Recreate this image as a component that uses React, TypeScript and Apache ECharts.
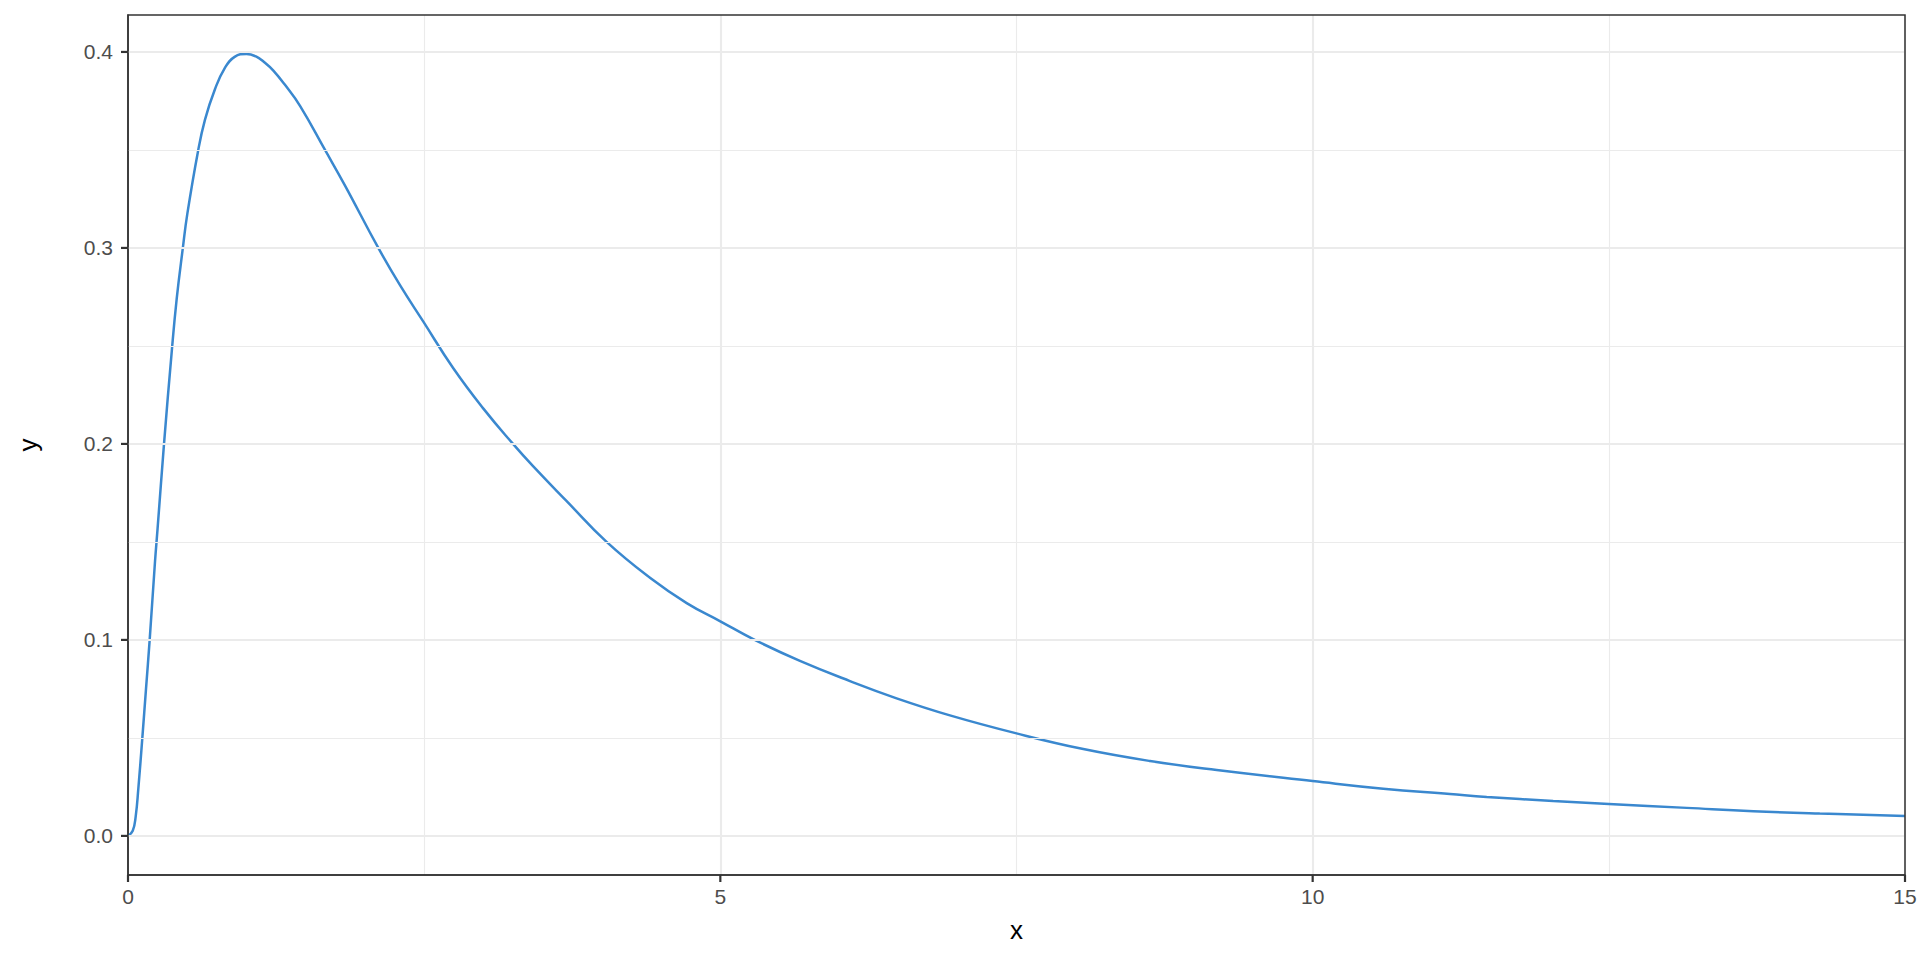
import React, { useEffect, useRef } from "react";
import * as echarts from "echarts";

// Curve (x, density y)
const X_VALUES = [
  0, 0.04, 0.065, 0.087, 0.121, 0.152, 0.183, 0.228, 0.25, 0.304, 0.369, 0.411,
  0.463, 0.501, 0.59, 0.65, 0.734, 0.819, 0.9, 1.0, 1.08, 1.156, 1.227, 1.325, 1.452,
  1.663, 1.832, 2.113, 2.296, 2.493, 2.746, 3.0, 3.25, 3.421, 3.703, 4.04, 4.406,
  4.716, 5.0, 5.29, 5.672, 6.094, 6.488, 6.938, 7.5, 8.064, 8.627, 9.19, 10.0,
  10.596, 11.159, 11.469, 12.03, 12.5, 13.157, 13.72, 14.28, 15.0,
];
const Y_VALUES = [
  0, 0.0026, 0.01, 0.024, 0.05, 0.075, 0.1, 0.14, 0.157, 0.2, 0.247, 0.274,
  0.3, 0.3175, 0.349, 0.3655, 0.381, 0.392, 0.3975, 0.399, 0.3977, 0.3945, 0.3905, 0.3832, 0.3725,
  0.35, 0.3318, 0.3, 0.281, 0.2624, 0.2386, 0.218, 0.2, 0.1885, 0.1708, 0.15, 0.1317,
  0.1188, 0.1095, 0.1, 0.0893, 0.079, 0.0702, 0.0615, 0.0523, 0.0443, 0.0382, 0.0336, 0.028,
  0.0241, 0.0214, 0.0199, 0.0178, 0.0163, 0.0143, 0.0126, 0.0114, 0.0102,
];

// Axis breaks
const X_MIN = 0;
const X_MAX = 15;
const X_TICK_STEP = 5;
const X_MAJOR_BREAKS = [0, 5, 10, 15];
const Y_MIN = -0.01995;
const Y_MAX = 0.41885;
const Y_MAJOR_BREAKS = [0, 0.1, 0.2, 0.3, 0.4];
const Y_MINOR_BREAKS = [0.05, 0.15, 0.25, 0.35];

const FONT = "'Liberation Sans', Arial, Helvetica, sans-serif";
const GRID = { left: 128, right: 15, top: 15, bottom: 85 };
const W = 1920;
const H = 960;
const TICK_LEN = 7;
const TICK_COLOR = "#333333";
const TICK_WIDTH = 2.2;

export default function App() {
  const ref = useRef<HTMLDivElement>(null);

  useEffect(() => {
    if (!ref.current) return;
    const chart = echarts.init(ref.current, undefined, { renderer: "svg" });
    const data = X_VALUES.map((x, i) => [x, Y_VALUES[i]]);

    const gridLine = (v: number, width: number) => ({
      yAxis: v,
      lineStyle: { color: "#EBEBEB", width, type: "solid" },
    });

    const border = {
      type: "rect",
      silent: true,
      z: 100,
      shape: {
        x: GRID.left,
        y: GRID.top,
        width: W - GRID.left - GRID.right,
        height: H - GRID.top - GRID.bottom,
      },
      style: { fill: "none", stroke: "#333333", lineWidth: 1.5 },
    };

    chart.setOption({
      animation: false,
      backgroundColor: "#FFFFFF",
      textStyle: { fontFamily: FONT },
      grid: { ...GRID, containLabel: false },
      xAxis: {
        type: "value",
        min: X_MIN,
        max: X_MAX,
        interval: X_TICK_STEP,
        name: "x",
        nameLocation: "middle",
        nameGap: 42,
        nameTextStyle: { fontSize: 26, color: "#000000", fontFamily: FONT },
        axisLine: { show: true, onZero: false, lineStyle: { color: "#333333", width: 1.5 } },
        axisTick: { show: false },
        axisLabel: { show: true, margin: 11, fontSize: 21, color: "#4D4D4D", fontFamily: FONT },
        splitLine: { show: true, lineStyle: { color: "#EBEBEB", width: 2.1 } },
        minorTick: { show: false, splitNumber: 2 },
        minorSplitLine: { show: true, lineStyle: { color: "#EBEBEB", width: 1.1 } },
      },
      yAxis: {
        type: "value",
        min: Y_MIN,
        max: Y_MAX,
        name: "y",
        nameLocation: "middle",
        nameGap: 87,
        nameTextStyle: { fontSize: 26, color: "#000000", fontFamily: FONT },
        axisLine: { show: true, onZero: false, lineStyle: { color: "#333333", width: 1.5 } },
        axisTick: { show: false },
        axisLabel: {
          show: true,
          margin: 15,
          fontSize: 21,
          color: "#4D4D4D",
          fontFamily: FONT,
          customValues: Y_MAJOR_BREAKS,
          formatter: (v: number) => v.toFixed(1),
        },
        splitLine: { show: false },
      },
      series: [
        {
          type: "line",
          name: "grid",
          data: [],
          z: 1,
          silent: true,
          markLine: {
            silent: true,
            symbol: ["none", "none"],
            label: { show: false },
            emphasis: { disabled: true },
            animation: false,
            data: [
              ...Y_MINOR_BREAKS.map((v) => gridLine(v, 1.1)),
              ...Y_MAJOR_BREAKS.map((v) => gridLine(v, 2.1)),
            ],
          },
        },
        {
          type: "line",
          name: "density",
          data,
          z: 3,
          showSymbol: false,
          symbol: "none",
          smooth: 0.45,
          lineStyle: { color: "#3A88CF", width: 2.5 },
          silent: true,
        },
      ],
      graphic: [border],
    });

    // Tick marks placed through the chart's own scales
    const toPx = (x: number, y: number) =>
      chart.convertToPixel({ gridIndex: 0 }, [x, y]) as number[];
    const ticks: any[] = [];
    Y_MAJOR_BREAKS.forEach((v) => {
      const p = toPx(X_MIN, v);
      ticks.push({
        type: "line",
        silent: true,
        z: 101,
        shape: { x1: p[0] - TICK_LEN, y1: p[1], x2: p[0], y2: p[1] },
        style: { stroke: TICK_COLOR, lineWidth: TICK_WIDTH },
      });
    });
    X_MAJOR_BREAKS.forEach((v) => {
      const p = toPx(v, Y_MIN);
      ticks.push({
        type: "line",
        silent: true,
        z: 101,
        shape: { x1: p[0], y1: p[1], x2: p[0], y2: p[1] + TICK_LEN },
        style: { stroke: TICK_COLOR, lineWidth: TICK_WIDTH },
      });
    });
    chart.setOption({ graphic: [border, ...ticks] }, { replaceMerge: ["graphic"] });

    return () => chart.dispose();
  }, []);

  return (
    <div
      ref={ref}
      style={{ position: "fixed", left: 0, top: 0, width: W, height: H, background: "#fff" }}
    />
  );
}
